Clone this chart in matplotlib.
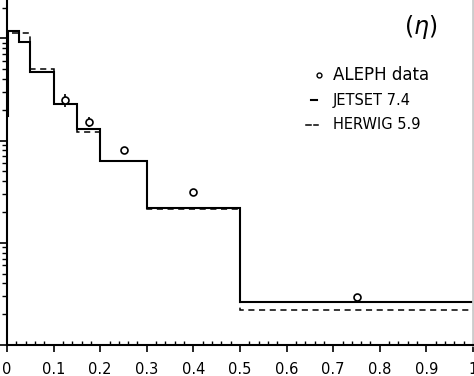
import matplotlib
matplotlib.use("Agg")
import matplotlib.pyplot as plt
import numpy as np

# JETSET 7.4 histogram (solid)
jet_edges = [0.0, 0.002, 0.025, 0.05, 0.1, 0.15, 0.2, 0.3, 0.5, 1.0]
jet_vals = [1.75, 11.8, 9.25, 4.71, 2.30, 1.31, 0.638, 0.217, 0.0263]

# HERWIG 5.9 histogram (dashed)
her_edges = [0.01, 0.05, 0.1, 0.15, 0.2, 0.3, 0.5, 1.0]
her_vals = [11.3, 5.04, 2.26, 1.22, 0.625, 0.214, 0.0219]

# ALEPH data points
data_x = [0.125, 0.175, 0.25, 0.4, 0.75]
data_y = [2.51, 1.53, 0.817, 0.311, 0.0294]
data_lo = [0.37, 0.16, 0.0, 0.0, 0.0]
data_hi = [0.36, 0.18, 0.0, 0.0, 0.0]

xtick_vals = [0, 0.1, 0.2, 0.3, 0.4, 0.5, 0.6, 0.7, 0.8, 0.9, 1.0]
xtick_labels = ["0", "0.1", "0.2", "0.3", "0.4", "0.5", "0.6", "0.7", "0.8", "0.9", "1"]

fig = plt.figure(figsize=(4.74, 3.76), dpi=100)
ax = fig.add_axes([7 / 474, 31 / 376, 466 / 474, 345 / 376])

ax.stairs(jet_vals, jet_edges, baseline=None, color="black", lw=1.5)
ax.stairs(her_vals, her_edges, baseline=None, color="black", lw=1.1,
          linestyle=(0, (4, 3)))
ax.errorbar(data_x, data_y, yerr=[data_lo, data_hi], fmt="o", ms=5,
            mfc="white", mec="black", mew=1.2, ecolor="black", elinewidth=1.2,
            capsize=0)

ax.set_yscale("log")
ax.set_xlim(0, 1)
ax.set_ylim(0.01, 10 ** (141 / 102.5))

ax.set_xticks(xtick_vals)
ax.set_xticklabels(xtick_labels, fontsize=10.5)
ax.set_xticks(np.arange(0, 1.001, 0.02), minor=True)
ax.tick_params(axis="x", which="major", direction="out", length=5, width=1.2, pad=7)
ax.tick_params(axis="x", which="minor", direction="in", length=3, width=1)
ax.tick_params(axis="y", which="major", direction="out", length=6, width=1.2,
               labelleft=False)
ax.tick_params(axis="y", which="minor", direction="out", length=3.5, width=1,
               labelleft=False)

ax.spines["top"].set_visible(False)
ax.spines["right"].set_color("#cccccc")
ax.spines["right"].set_linewidth(2)
ax.spines["left"].set_linewidth(1.5)
ax.spines["bottom"].set_linewidth(1.5)

# label and legend
ax.text(0.888, 0.922, r"$(\eta)$", transform=ax.transAxes, fontsize=17,
        ha="center", va="center")
ax.plot([0.669], [0.783], transform=ax.transAxes, marker="o", ms=3.5,
        mfc="white", mec="black", mew=1, clip_on=False)
ax.text(0.699, 0.783, "ALEPH data", transform=ax.transAxes, fontsize=12,
        va="center")
ax.plot([0.652, 0.666], [0.71, 0.71], transform=ax.transAxes, color="black",
        lw=1.5)
ax.text(0.699, 0.71, "JETSET 7.4", transform=ax.transAxes, fontsize=10.5,
        va="center")
ax.plot([0.642, 0.652], [0.638, 0.638], transform=ax.transAxes, color="black",
        lw=1.1)
ax.plot([0.658, 0.667], [0.638, 0.638], transform=ax.transAxes, color="black",
        lw=1.1)
ax.text(0.699, 0.638, "HERWIG 5.9", transform=ax.transAxes, fontsize=10.5,
        va="center")

fig.savefig("out.png", dpi=100)
